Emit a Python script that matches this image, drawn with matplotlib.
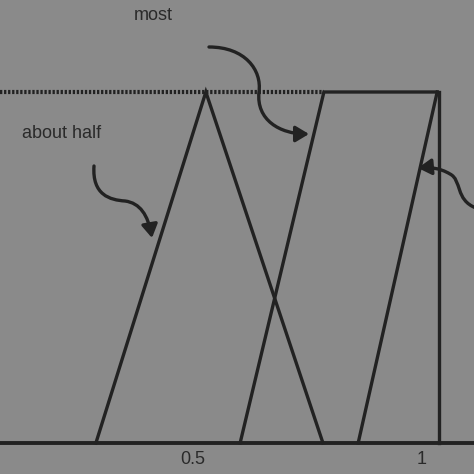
import matplotlib
matplotlib.use("Agg")
import matplotlib.pyplot as plt
from matplotlib.path import Path
from matplotlib.patches import FancyArrowPatch

# membership functions (x positions, y is 0 or 1)
half_x = [0.296, 0.527, 0.773]
half_y = [0, 1, 0]
most_x = [0.599, 0.775, 1.013]
most_y = [0, 1, 1]
high_x = [0.847, 1.013]
high_y = [0, 1]
edge_x = [1.017, 1.017]
edge_y = [0, 1]

tick_pos = [0.5, 0.98]
tick_labels = ["0.5", "1"]

labels = ["most", "about half"]

bg = "#8a8a8a"
ink = "#222222"

# pixel helper: picture is 474px, 0.5 at px 193, 1 at px 431, y=0 at px 443, y=1 at px 92
def px(x, y):
    return ((x + 45) / 476.0, (443 - y) / 351.0)

fig = plt.figure(figsize=(4.74, 4.74), dpi=100, facecolor=bg)
ax = fig.add_axes([0, 0, 1, 1])
ax.set_facecolor(bg)
x0, y1 = px(0, 0)
x1, y0 = px(474, 474)
ax.set_xlim(x0, x1)
ax.set_ylim(y0, y1)
ax.axis("off")

lw = 2.4
# base line and dotted top line
ax.plot([x0, x1], [0, 0], color=ink, lw=2.8, solid_capstyle="butt")
ax.plot([x0, most_x[1]], [1, 1], color=ink, lw=3.0, linestyle=(0, (0.55, 0.42)),
        dash_capstyle="butt")

ax.plot(half_x, half_y, color=ink, lw=lw, solid_joinstyle="miter")
ax.plot(most_x, most_y, color=ink, lw=lw, solid_joinstyle="miter")
ax.plot(high_x, high_y, color=ink, lw=lw)
ax.plot(edge_x, edge_y, color=ink, lw=lw)

# tick labels
for p, t in zip(tick_pos, tick_labels):
    ax.text(p, px(0, 459)[1], t, ha="center", va="center", fontsize=13,
            family="Liberation Sans", color="#2a2a2a")

# word labels
ax.text(*px(153, 15), labels[0], ha="center", va="center", fontsize=13,
        family="Liberation Sans", color="#2a2a2a")
ax.text(*px(62, 134), labels[1], ha="center", va="center", fontsize=13,
        family="Liberation Sans", color="#2a2a2a")

# curved arrows
arrows = [
    [(209, 47), (245, 47), (262, 70), (259, 92), (256, 120), (280, 134), (309, 134)],
    [(94, 166), (92, 195), (110, 200), (125, 201), (140, 203), (148, 215), (152, 238)],
    [(476, 208), (455, 200), (462, 180), (450, 174), (440, 168), (430, 167), (418, 168)],
]
for pts in arrows:
    verts = [px(*p) for p in pts]
    codes = [Path.MOVETO] + [Path.CURVE4] * 6
    arr = FancyArrowPatch(path=Path(verts, codes),
                          arrowstyle="-|>,head_length=0.5,head_width=0.3",
                          mutation_scale=16, color=ink, lw=2.4)
    ax.add_patch(arr)

fig.savefig("out.png", dpi=100, facecolor=bg)
